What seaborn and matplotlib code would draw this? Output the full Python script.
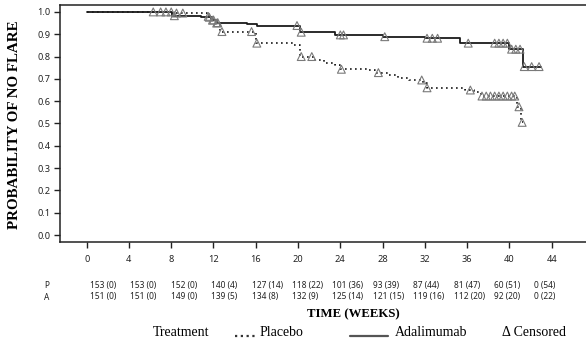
import numpy as np
import pandas as pd
import matplotlib
matplotlib.use("Agg")
import matplotlib.pyplot as plt
from matplotlib.lines import Line2D
import seaborn as sns

# ---------------- data ----------------
ada_t = [0, 8.1, 10.8, 11.9, 12.3, 15.2, 16.1, 20.2, 23.5, 28.0, 32.0, 35.3, 40.0, 41.3, 43.0]
ada_s = [1.0, 0.983, 0.976, 0.964, 0.952, 0.945, 0.939, 0.909, 0.897, 0.889, 0.882, 0.860, 0.833, 0.755, 0.755]

pbo_t = [0, 8.0, 11.4, 11.8, 12.2, 12.6, 16.0, 19.5, 20.2, 21.5, 22.5, 23.5, 24.0, 26.5,
         27.3, 28.5, 29.5, 30.5, 31.8, 32.2, 35.8, 36.6, 37.3, 40.7, 41.1, 41.3]
pbo_s = [1.0, 0.995, 0.98, 0.963, 0.95, 0.912, 0.86, 0.85, 0.80, 0.785, 0.773, 0.762, 0.743, 0.738,
         0.728, 0.717, 0.705, 0.695, 0.683, 0.660, 0.650, 0.640, 0.623, 0.575, 0.505, 0.505]

pbo_cens = [6.3, 7.0, 7.5, 8.5, 9.1, 11.5, 11.9, 12.3, 12.8, 15.6, 16.1, 20.3, 21.3, 24.1, 27.6,
            31.7, 32.2, 36.3, 37.4, 37.8, 38.2, 38.6, 39.0, 39.4, 39.8, 40.2, 40.5, 40.9, 41.2]
ada_cens = [8.0, 8.3, 11.6, 12.0, 12.4, 19.9, 20.3, 24.0, 24.3, 28.2, 32.2, 32.7, 33.2, 36.1,
            38.6, 39.0, 39.4, 39.8, 40.2, 40.6, 41.0, 41.4, 42.1, 42.8]

x_ticks = [0, 4, 8, 12, 16, 20, 24, 28, 32, 36, 40, 44]
y_ticks = [0.0, 0.1, 0.2, 0.3, 0.4, 0.5, 0.6, 0.7, 0.8, 0.9, 1.0]

risk_p = ["153 (0)", "153 (0)", "152 (0)", "140 (4)", "127 (14)", "118 (22)",
          "101 (36)", "93 (39)", "87 (44)", "81 (47)", "60 (51)", "0 (54)"]
risk_a = ["151 (0)", "151 (0)", "149 (0)", "139 (5)", "134 (8)", "132 (9)",
          "125 (14)", "121 (15)", "119 (16)", "112 (20)", "92 (20)", "0 (22)"]


def step_at(t, s, q):
    t = np.asarray(t); s = np.asarray(s)
    idx = np.searchsorted(t, q, side="right") - 1
    return s[np.clip(idx, 0, len(s) - 1)]


sns.set_style("white")
W, H = 586, 341
fig = plt.figure(figsize=(W / 100, H / 100), dpi=100)
ax = fig.add_axes([60 / W, 99 / H, 526 / W, 237 / H])

serif = ["Liberation Serif", "DejaVu Serif"]
sans = ["Noto Sans", "DejaVu Sans"]

df_a = pd.DataFrame({"t": ada_t, "s": ada_s})
df_p = pd.DataFrame({"t": pbo_t, "s": pbo_s})
sns.lineplot(data=df_a, x="t", y="s", ax=ax, estimator=None, drawstyle="steps-post",
             color="#1a1a1a", linewidth=1.3, linestyle="-")
sns.lineplot(data=df_p, x="t", y="s", ax=ax, estimator=None, drawstyle="steps-post",
             color="#1a1a1a", linewidth=1.2, linestyle=(0, (1, 2)))

cp = pd.DataFrame({"t": pbo_cens, "s": step_at(pbo_t, pbo_s, np.array(pbo_cens))})
ca = pd.DataFrame({"t": ada_cens, "s": step_at(ada_t, ada_s, np.array(ada_cens))})
for d in (cp, ca):
    sns.scatterplot(data=d, x="t", y="s", ax=ax, marker="^", s=32, color="none",
                    edgecolor="#7a7a7a", linewidth=0.8, zorder=3)

ax.set_xlim(-2.52, 47.24)
ax.set_ylim(-0.031, 1.031)
ax.set_xticks(x_ticks)
ax.set_yticks(y_ticks)
ax.set_xticklabels([str(v) for v in x_ticks], fontfamily=sans, fontsize=6.6, color="#222222")
ax.set_yticklabels([f"{v:.1f}" for v in y_ticks], fontfamily=sans, fontsize=6.6, color="#222222")
ax.tick_params(axis="both", direction="out", length=4, width=1, color="#222222",
               left=True, bottom=True, pad=3)
ax.tick_params(axis="x", pad=5)
ax.set_xlabel("")
ax.set_ylabel("")
for side in ("left", "bottom", "top"):
    ax.spines[side].set_color("#222222")
    ax.spines[side].set_linewidth(1.1)
ax.spines["right"].set_visible(False)
ax.grid(False)

# y-axis title
fig.text(15 / W, 1 - 125 / H, "PROBABILITY OF NO FLARE", rotation=90, ha="center",
         va="center", fontfamily=serif, fontweight="bold", fontsize=10.8, color="black")

# risk table
fig.text(44 / W, 1 - 285.5 / H, "P", ha="left", va="center", fontfamily=sans, fontsize=6, color="#222222")
fig.text(44 / W, 1 - 297 / H, "A", ha="left", va="center", fontfamily=sans, fontsize=6, color="#222222")
for i, (p, a) in enumerate(zip(risk_p, risk_a)):
    x = (90 + 40.4 * i) / W
    fig.text(x, 1 - 285.5 / H, p, ha="left", va="center", fontfamily=sans, fontsize=6, color="#222222")
    fig.text(x, 1 - 297 / H, a, ha="left", va="center", fontfamily=sans, fontsize=6, color="#222222")

# x title
fig.text(353 / W, 1 - 314 / H, "TIME (WEEKS)", ha="center", va="center",
         fontfamily=serif, fontweight="bold", fontsize=9.2, color="black")

# legend row
ly = 1 - 332 / H
fig.text(153 / W, ly, "Treatment", ha="left", va="center", fontfamily=serif, fontsize=10, color="black")
fig.add_artist(Line2D([235 / W, 258 / W], [1 - 336 / H] * 2, transform=fig.transFigure,
                      color="#333333", linewidth=1.6, linestyle=(0, (1, 1.6))))
fig.text(260 / W, ly, "Placebo", ha="left", va="center", fontfamily=serif, fontsize=10, color="black")
fig.add_artist(Line2D([350 / W, 388 / W], [1 - 336 / H] * 2, transform=fig.transFigure,
                      color="#555555", linewidth=1.6, linestyle="-"))
fig.text(395 / W, ly, "Adalimumab", ha="left", va="center", fontfamily=serif, fontsize=10, color="black")
fig.text(502 / W, ly, "\u0394 Censored", ha="left", va="center", fontfamily=serif, fontsize=10, color="black")

fig.savefig("out.png", dpi=100)
